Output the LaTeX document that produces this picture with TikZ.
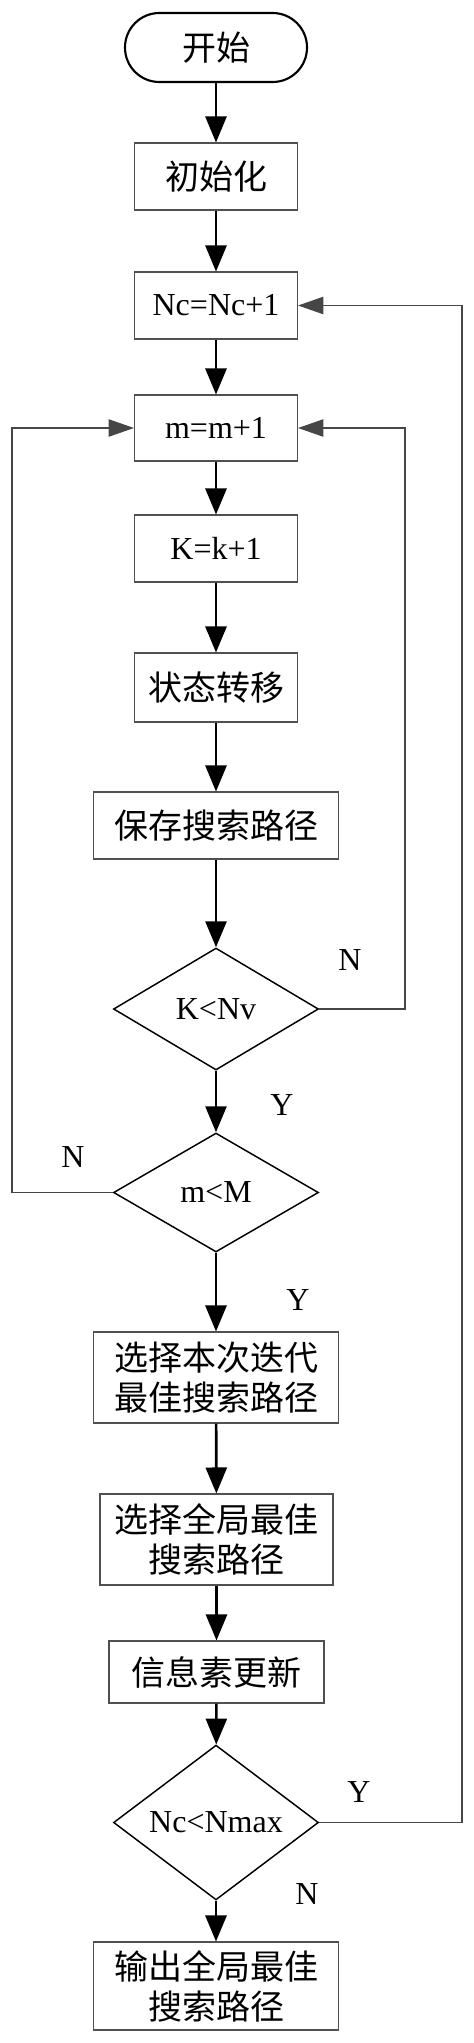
\documentclass[tikz,border=0pt]{standalone}
\usepackage{fontspec}
\setmainfont{Liberation Serif}
\newfontfamily\cjk{Noto Sans CJK SC}
\usetikzlibrary{shapes.geometric,arrows.meta}

\tikzset{
  box/.style={draw={rgb,255:red,80;green,80;blue,80},line width=0.8pt,rectangle,inner sep=0pt,align=center,font=\cjk\fontsize{25.5}{30}\selectfont},
  latbox/.style={box,font=\fontsize{24}{30}\selectfont},
  term/.style={draw,line width=1.6pt,rectangle,rounded corners=25.8pt,inner sep=0pt,minimum width=136.5pt,minimum height=51.75pt,font=\cjk\fontsize{25.5}{30}\selectfont},
  cond/.style={draw,line width=1.1pt,diamond,inner sep=0pt,minimum width=153.75pt,font=\fontsize{24}{30}\selectfont},
  flow/.style={line width=2pt,-{Triangle[length=19.5pt,width=15.75pt]}},
  back/.style={draw={rgb,255:red,70;green,70;blue,70},line width=1pt,-{Triangle[length=19pt,width=13pt]}},
  yn/.style={font=\fontsize{24}{30}\selectfont}
}

\begin{document}
\begin{tikzpicture}[x=0.75pt,y=0.75pt,yscale=-1,xscale=1]
\useasboundingbox (0,0) rectangle (474,2043);

%Shape: Terminal
\node[term] (start) at (216,47.5) {开始};
%Shape: Rectangle
\node[box,minimum width=122.25pt,minimum height=50.25pt] (init) at (216,176.5) {初始化};
\node[latbox,minimum width=122.25pt,minimum height=50.25pt] (nc) at (216,305.5) {Nc=Nc+1};
\node[latbox,minimum width=122.25pt,minimum height=49.5pt] (minc) at (216,428) {m=m+1};
\node[latbox,minimum width=122.25pt,minimum height=50.25pt] (kinc) at (216,548.5) {K=k+1};
\node[box,minimum width=122.25pt,minimum height=51.75pt] (trans) at (216,687.5) {状态转移};
\node[box,minimum width=183.75pt,minimum height=50.25pt] (save) at (216,825.5) {保存搜索路径};
%Shape: Diamond
\node[cond,minimum height=91.5pt] (dk) at (216,1009) {K<Nv};
\node[cond,minimum height=89.25pt] (dm) at (216,1192.5) {m<M};
%Shape: Rectangle
\node[box,minimum width=183.75pt,minimum height=68.25pt] (best) at (216,1377.5) {选择本次迭代\\最佳搜索路径};
\node[box,minimum width=174.75pt,minimum height=68.25pt] (gbest) at (216.5,1539.5) {选择全局最佳\\搜索路径};
\node[box,minimum width=161.25pt,minimum height=46.5pt] (upd) at (216.5,1672) {信息素更新};
%Shape: Diamond
\node[cond,minimum height=90.75pt] (dn) at (216,1822.5) {Nc<Nmax};
%Shape: Rectangle
\node[box,minimum width=183.75pt,minimum height=66pt] (out) at (216,1986) {输出全局最佳\\搜索路径};

%Straight Lines
\draw[flow] (start) -- (init);
\draw[flow] (init) -- (nc);
\draw[flow] (nc) -- (minc);
\draw[flow] (minc) -- (kinc);
\draw[flow] (kinc) -- (trans);
\draw[flow] (trans) -- (save);
\draw[flow] (save) -- (dk);
\draw[flow] (dk) -- (dm);
\draw[flow] (dm) -- (best);
\draw[flow] (best) -- (gbest);
\draw[flow] (gbest) -- (upd);
\draw[flow] (upd) -- (dn);
\draw[flow] (dn) -- (out);

%Loop Lines
\coordinate (lft) at (12,1192.5);
\coordinate (rin) at (405,1009);
\coordinate (rout) at (462,1822.5);
\draw[back] (dm.west) -- (lft) |- (minc.west);
\draw[back] (dk.east) -- (rin) |- (minc.east);
\draw[back] (dn.east) -- (rout) |- (nc.east);

%Text
\node[yn] (nk) at (350,960) {N};
\node[yn] (yk) at (282,1105) {Y};
\node[yn] (nm) at (73,1157) {N};
\node[yn] (ym) at (298,1300) {Y};
\node[yn] (yn) at (359,1792) {Y};
\node[yn] (nn) at (307,1894) {N};
\end{tikzpicture}
\end{document}
